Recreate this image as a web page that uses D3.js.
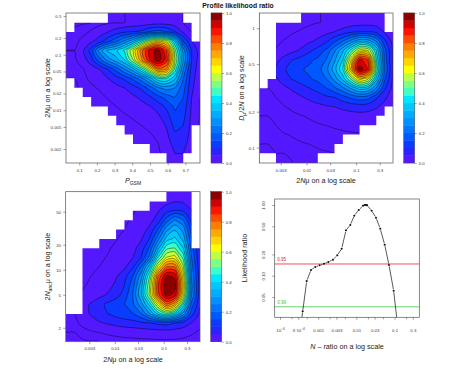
<!DOCTYPE html>
<html>
<head>
<meta charset="utf-8">
<script src="https://cdn.jsdelivr.net/npm/d3@7"></script>
<style>
  body { margin: 0; background: #fff; }
</style>
</head>
<body>
<div id="chart"></div>
<script>
// profile likelihood surfaces, rows top -> bottom, cols left -> right (16 x 16)
const grid1 = [
  [0,0,0.001,0.002,0.004,0.007,0.01,0.014,0.018,0.022,0.025,0.024,0.02,0.01,0.004,0.001],
  [0.002,0.005,0.012,0.025,0.048,0.071,0.09,0.1,0.11,0.15,0.17,0.15,0.1,0.04,0.01,0.003],
  [0.005,0.015,0.04,0.074,0.13,0.19,0.26,0.34,0.45,0.58,0.65,0.6,0.4,0.15,0.05,0.015],
  [0.01,0.04,0.12,0.27,0.36,0.39,0.46,0.6,0.78,0.92,0.97,0.85,0.52,0.28,0.1,0.025],
  [0.006,0.025,0.08,0.18,0.27,0.33,0.4,0.55,0.74,0.9,0.98,0.88,0.56,0.3,0.1,0.022],
  [0.002,0.008,0.025,0.05,0.1,0.17,0.25,0.33,0.45,0.6,0.78,0.75,0.48,0.25,0.08,0.02],
  [0.001,0.005,0.014,0.028,0.048,0.075,0.11,0.16,0.23,0.32,0.44,0.45,0.36,0.2,0.07,0.015],
  [0,0.002,0.006,0.012,0.022,0.035,0.05,0.075,0.11,0.17,0.24,0.27,0.25,0.17,0.06,0.012],
  [0,0.001,0.003,0.006,0.011,0.018,0.027,0.04,0.06,0.09,0.13,0.17,0.2,0.15,0.05,0.01],
  [0,0,0.001,0.003,0.006,0.01,0.015,0.022,0.032,0.046,0.07,0.11,0.16,0.13,0.045,0.008],
  [0,0,0,0.001,0.003,0.005,0.008,0.012,0.018,0.027,0.042,0.08,0.135,0.115,0.04,0.007],
  [0,0,0,0,0.001,0.002,0.004,0.006,0.01,0.015,0.025,0.055,0.115,0.1,0.035,0.006],
  [0,0,0,0,0,0.001,0.002,0.003,0.005,0.008,0.015,0.04,0.09,0.085,0.03,0.005],
  [0,0,0,0,0,0,0.001,0.002,0.003,0.005,0.009,0.028,0.068,0.066,0.025,0.004],
  [0,0,0,0,0,0,0,0.001,0.002,0.003,0.006,0.02,0.05,0.05,0.02,0.003],
  [0,0,0,0,0,0,0,0,0.001,0.002,0.004,0.012,0.032,0.034,0.014,0.002]
];
// first and last defined column per row (outside is blank)
const mask1 = [[5,13],[1,14],[0,14],[0,15],[0,15],[0,15],[0,15],[1,15],[2,15],[3,15],[5,15],[6,15],[7,14],[8,14],[10,14],[12,13]];

const grid2 = [
  [0,0.001,0.002,0.003,0.004,0.006,0.009,0.012,0.016,0.02,0.024,0.027,0.028,0.025,0.014,0.005],
  [0.001,0.003,0.005,0.008,0.012,0.018,0.026,0.036,0.05,0.068,0.088,0.1,0.1,0.085,0.045,0.015],
  [0.003,0.006,0.011,0.018,0.028,0.042,0.06,0.09,0.14,0.2,0.27,0.34,0.33,0.25,0.11,0.03],
  [0.006,0.012,0.022,0.038,0.058,0.09,0.12,0.16,0.24,0.34,0.47,0.62,0.6,0.4,0.17,0.045],
  [0.015,0.035,0.07,0.1,0.12,0.14,0.16,0.2,0.29,0.4,0.65,0.92,0.85,0.45,0.18,0.04],
  [0.03,0.06,0.095,0.12,0.145,0.16,0.18,0.23,0.33,0.45,0.72,0.98,0.9,0.49,0.2,0.045],
  [0.02,0.045,0.08,0.105,0.125,0.145,0.165,0.2,0.27,0.37,0.52,0.68,0.62,0.38,0.16,0.04],
  [0.01,0.022,0.04,0.06,0.08,0.1,0.12,0.15,0.19,0.24,0.31,0.38,0.36,0.25,0.11,0.033],
  [0.005,0.01,0.02,0.03,0.045,0.06,0.075,0.09,0.1,0.13,0.16,0.18,0.17,0.11,0.06,0.022],
  [0.002,0.005,0.009,0.014,0.02,0.028,0.036,0.044,0.05,0.06,0.068,0.072,0.068,0.055,0.035,0.014],
  [0.001,0.002,0.004,0.006,0.009,0.012,0.016,0.02,0.024,0.028,0.032,0.035,0.033,0.028,0.02,0.01],
  [0.0005,0.001,0.002,0.003,0.004,0.006,0.008,0.01,0.012,0.014,0.016,0.017,0.016,0.014,0.01,0.006],
  [0.0002,0.0004,0.0008,0.0012,0.0018,0.0025,0.0035,0.0045,0.0055,0.0065,0.0075,0.008,0.008,0.007,0.005,0.003],
  [0.0001,0.0002,0.0003,0.0005,0.0007,0.001,0.0014,0.0018,0.0022,0.0027,0.003,0.0033,0.0033,0.003,0.0022,0.0014],
  [0,0.0001,0.0001,0.0002,0.0003,0.0004,0.0005,0.0007,0.0009,0.001,0.0012,0.0013,0.0013,0.0012,0.0009,0.0006],
  [0,0,0,0.0001,0.0001,0.0001,0.0002,0.0002,0.0003,0.0004,0.0004,0.0005,0.0005,0.0004,0.0003,0.0002]
];
const mask2 = [[5,14],[2,14],[2,15],[2,15],[2,15],[2,15],[2,15],[1,15],[0,15],[0,15],[0,14],[0,13],[0,11],[0,9],[0,8],[2,6]];

const grid3 = [
  [0,0,0,0,0,0.001,0.002,0.004,0.007,0.012,0.02,0.03,0.045,0.04,0.025,0.01],
  [0,0,0,0,0.001,0.002,0.004,0.008,0.014,0.024,0.045,0.08,0.1,0.09,0.05,0.015],
  [0,0,0,0.001,0.002,0.004,0.007,0.012,0.02,0.035,0.07,0.17,0.25,0.2,0.08,0.02],
  [0,0,0.001,0.002,0.003,0.006,0.01,0.017,0.03,0.06,0.15,0.28,0.34,0.28,0.12,0.03],
  [0,0.001,0.002,0.003,0.005,0.009,0.015,0.025,0.045,0.1,0.23,0.37,0.41,0.33,0.15,0.04],
  [0.001,0.002,0.003,0.005,0.008,0.013,0.02,0.035,0.07,0.16,0.33,0.48,0.5,0.4,0.17,0.05],
  [0.001,0.003,0.005,0.007,0.011,0.017,0.028,0.048,0.1,0.22,0.45,0.6,0.62,0.48,0.2,0.05],
  [0.002,0.004,0.007,0.01,0.015,0.025,0.04,0.09,0.2,0.38,0.62,0.8,0.8,0.56,0.22,0.06],
  [0.003,0.006,0.01,0.015,0.025,0.045,0.08,0.15,0.28,0.5,0.8,0.96,0.94,0.62,0.24,0.07],
  [0.004,0.008,0.013,0.02,0.033,0.06,0.1,0.18,0.33,0.55,0.85,0.99,0.97,0.66,0.26,0.07],
  [0.006,0.012,0.02,0.035,0.055,0.08,0.12,0.2,0.35,0.56,0.83,0.97,0.93,0.62,0.25,0.07],
  [0.01,0.03,0.055,0.085,0.11,0.13,0.15,0.19,0.28,0.42,0.62,0.8,0.72,0.45,0.18,0.055],
  [0.01,0.03,0.055,0.08,0.1,0.12,0.135,0.15,0.2,0.3,0.42,0.5,0.42,0.28,0.12,0.04],
  [0.005,0.015,0.03,0.045,0.055,0.065,0.075,0.08,0.09,0.1,0.11,0.12,0.1,0.08,0.05,0.02],
  [0.001,0.003,0.006,0.01,0.013,0.016,0.019,0.021,0.023,0.025,0.027,0.028,0.026,0.02,0.013,0.006],
  [0.0001,0.0003,0.0006,0.001,0.0015,0.002,0.0025,0.003,0.0035,0.004,0.0045,0.005,0.0045,0.0035,0.0025,0.001]
];
const mask3 = [[12,14],[10,14],[8,14],[7,14],[6,14],[4,14],[2,15],[2,15],[2,15],[2,15],[2,15],[2,15],[2,15],[0,15],[0,15],[0,15]];

// profile likelihood of the N ratio
const ratioN = [3.03e-4,3.93e-4,5.0e-4,6.49e-4,8.4e-4,1.09e-3,1.42e-3,1.84e-3,2.44e-3,3.16e-3,4.12e-3,5.34e-3,6.92e-3,8.81e-3,0.0115,0.0149,0.0165,0.0178,0.0189,0.0251,0.0326,0.0422,0.0551,0.0713,0.0946,0.1228];
const ratioLR = [0.0101,0.0313,0.0841,0.1205,0.1327,0.1403,0.1479,0.156,0.1684,0.1944,0.241,0.4385,0.521,0.706,0.85,0.977,1.0,1.0,0.995,0.831,0.661,0.462,0.274,0.1417,0.0614,0.0176];
const cut95 = 0.1465, cut99 = 0.0363;

// ticks
const xTicks1 = [0.1,0.2,0.3,0.4,0.5,0.6,0.7];
const xLabels1 = ["0.1","0.2","0.3","0.4","0.5","0.6","0.7"];
const yTicks1 = [0.5,0.2,0.1,0.05,0.02,0.01,0.005,0.002];
const yLabels1 = ["0.5","0.2","0.1","0.05","0.02","0.01","0.005","0.002"];
const xTicks2 = [0.003,0.01,0.03,0.1,0.3];
const xLabels2 = ["0.003","0.01","0.03","0.1","0.3"];
const yTicks2 = [1,0.5,0.2,0.1];
const yLabels2 = ["1","0.5","0.2","0.1"];
const yTicks3 = [50,20,10,5,2];
const yLabels3 = ["50","20","10","5","2"];
const xTicks4 = [1e-4,3e-4,1e-3,3e-3,0.01,0.03,0.1,0.3];
const xLabels4 = ["10^-4","3\u00b710^-4","0.001","0.003","0.01","0.03","0.1","0.3"];
const xMinor4 = [2e-4,5e-4,2e-3,5e-3,0.02,0.05,0.2];
const yTicks4 = [1,0.5,0.2,0.1,0.05];
const yLabels4 = ["1.00","0.50","0.20","0.10","0.05"];
const barTicks = [0,0.2,0.4,0.6,0.8,1];

const FONT = "'Liberation Sans', Arial, Helvetica, sans-serif";
const bandColors = ["#5418ff","#2a22ff","#0a3cff","#0058ff","#0074ff","#0090ff","#00acff","#00c8ff","#00e6ff","#3cffc8",
                    "#7cff84","#bcff44","#ffff00","#ffd400","#ffaa00","#ff7e00","#ff4c00","#ff1400","#d40000","#8c0000"];
const fillLevels = d3.range(1, 20).map(k => k / 20);
const lineLevels = [1e-4, 1e-3, 0.01].concat(fillLevels);

const svg = d3.select("#chart").append("svg")
  .attr("width", 474).attr("height", 381)
  .style("font-family", FONT);

let clipCount = 0;
function clipTo(box) {
  const id = "clip" + (clipCount++);
  svg.append("clipPath").attr("id", id).append("rect")
    .attr("x", box.x0).attr("y", box.y0).attr("width", box.x1 - box.x0).attr("height", box.y1 - box.y0);
  return svg.append("g").attr("clip-path", `url(#${id})`);
}

function drawField(grid, mask, box) {
  const m = grid.length, n = grid[0].length;
  // repeat edge values so the bands reach the frame
  const padded = [];
  for (let j = -1; j <= m; j++) {
    const row = grid[Math.max(0, Math.min(m - 1, j))];
    padded.push(row[0], ...row, row[n - 1]);
  }
  const gx = d3.scaleLinear().domain([0.5, n + 0.5]).range([box.x0, box.x1]);
  const gy = d3.scaleLinear().domain([0.5, m + 0.5]).range([box.y0, box.y1]);
  const line = d3.line().x(p => gx(p[0])).y(p => gy(p[1])).curve(d3.curveCatmullRomClosed.alpha(0.5));
  const toPath = mp => mp.coordinates.map(poly => poly.map(r => line(r.slice(0, -1))).join("")).join("");
  const cs = d3.contours().size([n + 2, m + 2]).thresholds(lineLevels)(padded);

  const g = clipTo(box);
  g.append("rect").attr("x", box.x0).attr("y", box.y0)
    .attr("width", box.x1 - box.x0).attr("height", box.y1 - box.y0).attr("fill", bandColors[0]);
  cs.filter(c => c.value >= 0.05).forEach(c => {
    g.append("path").attr("d", toPath(c)).attr("fill", bandColors[Math.round(c.value * 20)])
      .attr("fill-rule", "evenodd");
  });
  cs.forEach(c => {
    g.append("path").attr("d", toPath(c)).attr("fill", "none")
      .attr("stroke", "#000").attr("stroke-opacity", 0.75).attr("stroke-width", 0.55);
  });
  // blank cells
  const cw = (box.x1 - box.x0) / n, ch = (box.y1 - box.y0) / m;
  let d = "";
  mask.forEach(([a, b], j) => {
    const yy = box.y0 + j * ch - 0.3, hh = ch + 0.6;
    if (a > 0) d += `M${box.x0 - 1},${yy}H${box.x0 + a * cw}v${hh}H${box.x0 - 1}Z`;
    if (b < n - 1) d += `M${box.x0 + (b + 1) * cw},${yy}H${box.x1 + 1}v${hh}H${box.x0 + (b + 1) * cw}Z`;
  });
  g.append("path").attr("d", d).attr("fill", "#fff");
}

function frame(box) {
  svg.append("rect").attr("x", box.x0).attr("y", box.y0)
    .attr("width", box.x1 - box.x0).attr("height", box.y1 - box.y0)
    .attr("fill", "none").attr("stroke", "#555").attr("stroke-width", 0.7);
}

function styleAxis(g) {
  g.attr("font-size", 4.3).attr("font-family", FONT);
  g.select(".domain").remove();
  g.selectAll("line").attr("stroke", "#444").attr("stroke-width", 0.5);
  g.selectAll("text").attr("fill", "#333");
  return g;
}

function axes(box, xs, xt, xl, ys, yt, yl) {
  const ax = svg.append("g").attr("transform", `translate(0,${box.y1})`)
    .call(d3.axisBottom(xs).tickValues(xt).tickFormat((d, i) => xl[i]).tickSize(2.5).tickPadding(3.2));
  styleAxis(ax);
  const ay = svg.append("g").attr("transform", `translate(${box.x0},0)`)
    .call(d3.axisLeft(ys).tickValues(yt).tickFormat((d, i) => yl[i]).tickSize(2.5).tickPadding(2.2));
  styleAxis(ay);
  return [ax, ay];
}

function colorBar(x0, x1, y0, y1) {
  const s = d3.scaleLinear().domain([0, 1]).range([y1, y0]);
  const g = svg.append("g");
  bandColors.forEach((c, i) => {
    g.append("rect").attr("x", x0).attr("width", x1 - x0)
      .attr("y", s((i + 1) / 20) - 0.2).attr("height", s(i / 20) - s((i + 1) / 20) + 0.4)
      .attr("fill", c);
  });
  g.append("rect").attr("x", x0).attr("y", y0).attr("width", x1 - x0).attr("height", y1 - y0)
    .attr("fill", "none").attr("stroke", "#444").attr("stroke-width", 0.5);
  const a = svg.append("g").attr("transform", `translate(${x1},0)`)
    .call(d3.axisRight(s).tickValues(barTicks).tickFormat(d3.format(".1f")).tickSize(2).tickPadding(2));
  styleAxis(a);
}

// parts: [text, style] style: i = italic, s = subscript, p = superscript
function richText(g, parts, size) {
  const t = g.append("text").attr("font-size", size).attr("fill", "#222");
  let shift = 0;
  parts.forEach(([str, st]) => {
    const want = st && st.includes("s") ? size * 0.3 : st && st.includes("p") ? -size * 0.45 : 0;
    const sp = t.append("tspan").text(str).attr("dy", want - shift);
    if (st && st.includes("i")) sp.attr("font-style", "italic");
    if (want !== 0) sp.attr("font-size", size * 0.7);
    shift = want;
  });
  return t;
}

function xTitle(cx, y, parts) {
  const g = svg.append("g").attr("transform", `translate(${cx},${y})`);
  richText(g, parts, 7.2).attr("text-anchor", "middle");
}
function yTitle(x, cy, parts) {
  const g = svg.append("g").attr("transform", `translate(${x},${cy}) rotate(-90)`);
  richText(g, parts, 7.2).attr("text-anchor", "middle");
}

// ---- panel 1 ----
const box1 = {x0: 66, x1: 200, y0: 13, y1: 163};
const x1s = d3.scaleLinear().domain([0.025, 0.783]).range([box1.x0, box1.x1]);
const y1s = d3.scaleLog().domain([0.00112, 0.566]).range([box1.y1, box1.y0]);
drawField(grid1, mask1, box1);
frame(box1);
axes(box1, x1s, xTicks1, xLabels1, y1s, yTicks1, yLabels1);
colorBar(211, 222, 13, 163);
xTitle(133, 183, [["P", "i"], ["GSM", "s"]]);
yTitle(49.5, 88, [["2"], ["N", "i"], ["\u03bc on a log scale"]]);

// ---- panel 2 ----
const box2 = {x0: 259.3, x1: 393, y0: 13, y1: 163};
const x2s = d3.scaleLog().domain([0.00111, 0.557]).range([box2.x0, box2.x1]);
const y2s = d3.scaleLog().domain([0.0744, 1.34]).range([box2.y1, box2.y0]);
drawField(grid2, mask2, box2);
frame(box2);
axes(box2, x2s, xTicks2, xLabels2, y2s, yTicks2, yLabels2);
colorBar(403.7, 414.7, 13, 163);
xTitle(326, 183, [["2"], ["N", "i"], ["\u03bc on a log scale"]]);
yTitle(243.5, 88, [["D", "i"], ["\u03bc", "s"], ["/2"], ["N", "i"], [" on a log scale"]]);

// ---- panel 3 ----
const box3 = {x0: 65.7, x1: 200, y0: 191.7, y1: 341.7};
const x3s = d3.scaleLog().domain([0.000986, 0.553]).range([box3.x0, box3.x1]);
const y3s = d3.scaleLog().domain([1.36, 87]).range([box3.y1, box3.y0]);
drawField(grid3, mask3, box3);
frame(box3);
axes(box3, x3s, xTicks2, xLabels2, y3s, yTicks3, yLabels3);
colorBar(210.7, 221.7, 191.7, 341.7);
xTitle(133, 362, [["2"], ["N", "i"], ["\u03bc on a log scale"]]);
yTitle(49.5, 266.7, [["2"], ["N", "i"], ["anc", "s"], ["\u03bc on a log scale"]]);

// ---- panel 4 ----
const box4 = {x0: 274.7, x1: 419.3, y0: 199, y1: 317.3};
const x4s = d3.scaleLog().domain([7.26e-5, 0.444]).range([box4.x0, box4.x1]);
const y4s = d3.scaleLog().domain([0.0258, 1.216]).range([box4.y1, box4.y0]);
const g4 = clipTo(box4);
g4.append("line").attr("x1", box4.x0).attr("x2", box4.x1).attr("y1", y4s(cut95)).attr("y2", y4s(cut95))
  .attr("stroke", "#e8242c").attr("stroke-width", 0.8);
g4.append("line").attr("x1", box4.x0).attr("x2", box4.x1).attr("y1", y4s(cut99)).attr("y2", y4s(cut99))
  .attr("stroke", "#3cc83c").attr("stroke-width", 0.8);
const pts = ratioN.map((v, i) => [x4s(v), y4s(ratioLR[i])]);
const gap = 1.5;
for (let i = 1; i < pts.length; i++) {
  const [ax, ay] = pts[i - 1], [bx, by] = pts[i];
  const len = Math.hypot(bx - ax, by - ay);
  if (len <= 2 * gap + 0.3) continue;
  const ux = (bx - ax) / len, uy = (by - ay) / len;
  g4.append("line").attr("x1", ax + ux * gap).attr("y1", ay + uy * gap)
    .attr("x2", bx - ux * gap).attr("y2", by - uy * gap)
    .attr("stroke", "#111").attr("stroke-width", 0.7);
}
g4.selectAll("circle").data(pts).join("circle")
  .attr("cx", d => d[0]).attr("cy", d => d[1]).attr("r", 1.05).attr("fill", "#111");
svg.append("text").attr("x", box4.x0 + 2.5).attr("y", y4s(cut95) - 3).attr("font-size", 4.6)
  .attr("fill", "#e8242c").text("0.95");
svg.append("text").attr("x", box4.x0 + 2.5).attr("y", y4s(cut99) - 3).attr("font-size", 4.6)
  .attr("fill", "#3cc83c").text("0.99");
frame(box4);
const ax4 = svg.append("g").attr("transform", `translate(0,${box4.y1})`)
  .call(d3.axisBottom(x4s).tickValues(xTicks4).tickFormat(() => "").tickSize(2.5).tickPadding(9));
styleAxis(ax4);
ax4.selectAll("text").each(function (d, i) {
  const parts = xLabels4[i].split("^");
  const t = d3.select(this);
  t.append("tspan").text(parts[0]);
  if (parts[1]) {
    t.append("tspan").text(parts[1].replace("-", "\u2212")).attr("font-size", 3.2).attr("dy", -1.8);
  }
});
const axm4 = svg.append("g").attr("transform", `translate(0,${box4.y1})`)
  .call(d3.axisBottom(x4s).tickValues(xMinor4).tickFormat(() => "").tickSize(2));
styleAxis(axm4);
const ay4 = svg.append("g").attr("transform", `translate(${box4.x0},0)`)
  .call(d3.axisLeft(y4s).tickValues(yTicks4).tickFormat((d, i) => yLabels4[i]).tickSize(2.5));
styleAxis(ay4);
ay4.selectAll("text").attr("x", null).attr("dy", null).attr("text-anchor", "middle")
  .attr("transform", "translate(-10,0) rotate(-90)");
xTitle(347, 349, [["N", "i"], [" \u2013 ratio on a log scale"]]);
yTitle(247, 258, [["Likelihood ratio"]]);

// ---- title ----
svg.append("text").attr("x", 238).attr("y", 7.5).attr("text-anchor", "middle")
  .attr("font-size", 6.8).attr("font-weight", "bold").attr("fill", "#111")
  .text("Profile likelihood ratio");
</script>
</body>
</html>
